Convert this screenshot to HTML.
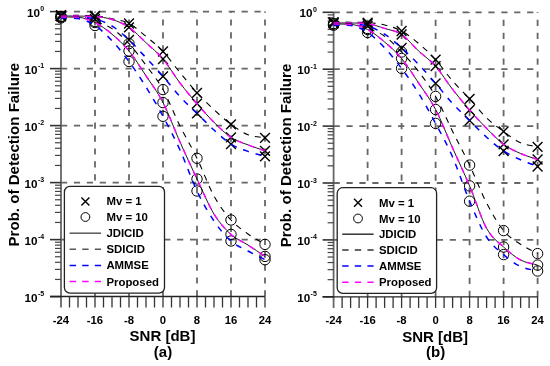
<!DOCTYPE html>
<html><head><meta charset="utf-8"><title>Detection failure</title><style>
html,body{margin:0;padding:0;background:#fff;}
svg{display:block;filter:blur(0.3px);}
text{font-family:"Liberation Sans", sans-serif;font-weight:bold;fill:#000;}
.tl{font-size:11.3px;}
.sup{font-size:7px;}
.yl{font-size:11.7px;}
.lt{font-size:11.4px;}
.al{font-size:15px;}
.yal{font-size:15.1px;}
.grid{stroke:#666;stroke-width:1.8;stroke-dasharray:6.2 6.7;fill:none;}
.yax{stroke:#666;stroke-width:1.8;}
.ytk{stroke:#333;stroke-width:1.6;}
.ytm{stroke:#444;stroke-width:1.2;}
.xax{stroke:#222;stroke-width:1.3;}
.xtk{stroke:#333;stroke-width:1.3;}
.cJ{stroke:#000;stroke-width:0.9;fill:none;}
.cS{stroke:#000;stroke-width:1.1;fill:none;stroke-dasharray:6 6;}
.cA{stroke:#0000ff;stroke-width:1.5;fill:none;stroke-dasharray:6 7;}
.cP{stroke:#ff00ff;stroke-width:1.5;fill:none;stroke-dasharray:6 6;}
.xm{stroke:#000;stroke-width:1.4;fill:none;}
.om{stroke:#000;stroke-width:1;fill:none;}
.leg{fill:#fff;stroke:#222;stroke-width:1.3;}
.lJ{stroke:#555;stroke-width:1.5;}
.lS{stroke:#555;stroke-width:1.5;stroke-dasharray:6.4 6.2;}
.lA{stroke:#0000ff;stroke-width:1.5;stroke-dasharray:6.4 6.2;}
.lP{stroke:#ff00ff;stroke-width:1.5;stroke-dasharray:6.4 6.2;}
</style></head>
<body><svg width="550" height="366" viewBox="0 0 550 366">
<line x1="95.00" y1="296.50" x2="95.00" y2="11.60" class="grid"/>
<line x1="129.00" y1="296.50" x2="129.00" y2="11.60" class="grid"/>
<line x1="163.00" y1="296.50" x2="163.00" y2="11.60" class="grid"/>
<line x1="197.00" y1="296.50" x2="197.00" y2="11.60" class="grid"/>
<line x1="231.00" y1="296.50" x2="231.00" y2="11.60" class="grid"/>
<line x1="265.00" y1="296.50" x2="265.00" y2="11.60" class="grid"/>
<line x1="61.00" y1="11.60" x2="265.00" y2="11.60" class="grid"/>
<line x1="61.00" y1="68.60" x2="265.00" y2="68.60" class="grid"/>
<line x1="61.00" y1="125.60" x2="265.00" y2="125.60" class="grid"/>
<line x1="61.00" y1="182.60" x2="265.00" y2="182.60" class="grid"/>
<line x1="61.00" y1="239.60" x2="265.00" y2="239.60" class="grid"/>
<line x1="61.00" y1="11.60" x2="61.00" y2="307.50" class="yax"/>
<line x1="50.00" y1="11.60" x2="61.00" y2="11.60" class="ytk"/>
<line x1="55.00" y1="51.44" x2="61.00" y2="51.44" class="ytm"/>
<line x1="55.00" y1="41.40" x2="61.00" y2="41.40" class="ytm"/>
<line x1="55.00" y1="34.28" x2="61.00" y2="34.28" class="ytm"/>
<line x1="55.00" y1="28.76" x2="61.00" y2="28.76" class="ytm"/>
<line x1="55.00" y1="24.25" x2="61.00" y2="24.25" class="ytm"/>
<line x1="55.00" y1="20.43" x2="61.00" y2="20.43" class="ytm"/>
<line x1="55.00" y1="17.12" x2="61.00" y2="17.12" class="ytm"/>
<line x1="55.00" y1="14.21" x2="61.00" y2="14.21" class="ytm"/>
<line x1="50.00" y1="68.60" x2="61.00" y2="68.60" class="ytk"/>
<line x1="55.00" y1="108.44" x2="61.00" y2="108.44" class="ytm"/>
<line x1="55.00" y1="98.40" x2="61.00" y2="98.40" class="ytm"/>
<line x1="55.00" y1="91.28" x2="61.00" y2="91.28" class="ytm"/>
<line x1="55.00" y1="85.76" x2="61.00" y2="85.76" class="ytm"/>
<line x1="55.00" y1="81.25" x2="61.00" y2="81.25" class="ytm"/>
<line x1="55.00" y1="77.43" x2="61.00" y2="77.43" class="ytm"/>
<line x1="55.00" y1="74.12" x2="61.00" y2="74.12" class="ytm"/>
<line x1="55.00" y1="71.21" x2="61.00" y2="71.21" class="ytm"/>
<line x1="50.00" y1="125.60" x2="61.00" y2="125.60" class="ytk"/>
<line x1="55.00" y1="165.44" x2="61.00" y2="165.44" class="ytm"/>
<line x1="55.00" y1="155.40" x2="61.00" y2="155.40" class="ytm"/>
<line x1="55.00" y1="148.28" x2="61.00" y2="148.28" class="ytm"/>
<line x1="55.00" y1="142.76" x2="61.00" y2="142.76" class="ytm"/>
<line x1="55.00" y1="138.25" x2="61.00" y2="138.25" class="ytm"/>
<line x1="55.00" y1="134.43" x2="61.00" y2="134.43" class="ytm"/>
<line x1="55.00" y1="131.12" x2="61.00" y2="131.12" class="ytm"/>
<line x1="55.00" y1="128.21" x2="61.00" y2="128.21" class="ytm"/>
<line x1="50.00" y1="182.60" x2="61.00" y2="182.60" class="ytk"/>
<line x1="55.00" y1="222.44" x2="61.00" y2="222.44" class="ytm"/>
<line x1="55.00" y1="212.40" x2="61.00" y2="212.40" class="ytm"/>
<line x1="55.00" y1="205.28" x2="61.00" y2="205.28" class="ytm"/>
<line x1="55.00" y1="199.76" x2="61.00" y2="199.76" class="ytm"/>
<line x1="55.00" y1="195.25" x2="61.00" y2="195.25" class="ytm"/>
<line x1="55.00" y1="191.43" x2="61.00" y2="191.43" class="ytm"/>
<line x1="55.00" y1="188.12" x2="61.00" y2="188.12" class="ytm"/>
<line x1="55.00" y1="185.21" x2="61.00" y2="185.21" class="ytm"/>
<line x1="50.00" y1="239.60" x2="61.00" y2="239.60" class="ytk"/>
<line x1="55.00" y1="279.44" x2="61.00" y2="279.44" class="ytm"/>
<line x1="55.00" y1="269.40" x2="61.00" y2="269.40" class="ytm"/>
<line x1="55.00" y1="262.28" x2="61.00" y2="262.28" class="ytm"/>
<line x1="55.00" y1="256.76" x2="61.00" y2="256.76" class="ytm"/>
<line x1="55.00" y1="252.25" x2="61.00" y2="252.25" class="ytm"/>
<line x1="55.00" y1="248.43" x2="61.00" y2="248.43" class="ytm"/>
<line x1="55.00" y1="245.12" x2="61.00" y2="245.12" class="ytm"/>
<line x1="55.00" y1="242.21" x2="61.00" y2="242.21" class="ytm"/>
<line x1="50.00" y1="296.60" x2="61.00" y2="296.60" class="ytk"/>
<line x1="50.00" y1="296.50" x2="265.00" y2="296.50" class="xax"/>
<line x1="69.50" y1="296.50" x2="69.50" y2="307.50" class="xtk"/>
<line x1="78.00" y1="296.50" x2="78.00" y2="307.50" class="xtk"/>
<line x1="86.50" y1="296.50" x2="86.50" y2="307.50" class="xtk"/>
<line x1="95.00" y1="296.50" x2="95.00" y2="307.50" class="xtk"/>
<line x1="103.50" y1="296.50" x2="103.50" y2="307.50" class="xtk"/>
<line x1="112.00" y1="296.50" x2="112.00" y2="307.50" class="xtk"/>
<line x1="120.50" y1="296.50" x2="120.50" y2="307.50" class="xtk"/>
<line x1="129.00" y1="296.50" x2="129.00" y2="307.50" class="xtk"/>
<line x1="137.50" y1="296.50" x2="137.50" y2="307.50" class="xtk"/>
<line x1="146.00" y1="296.50" x2="146.00" y2="307.50" class="xtk"/>
<line x1="154.50" y1="296.50" x2="154.50" y2="307.50" class="xtk"/>
<line x1="163.00" y1="296.50" x2="163.00" y2="307.50" class="xtk"/>
<line x1="171.50" y1="296.50" x2="171.50" y2="307.50" class="xtk"/>
<line x1="180.00" y1="296.50" x2="180.00" y2="307.50" class="xtk"/>
<line x1="188.50" y1="296.50" x2="188.50" y2="307.50" class="xtk"/>
<line x1="197.00" y1="296.50" x2="197.00" y2="307.50" class="xtk"/>
<line x1="205.50" y1="296.50" x2="205.50" y2="307.50" class="xtk"/>
<line x1="214.00" y1="296.50" x2="214.00" y2="307.50" class="xtk"/>
<line x1="222.50" y1="296.50" x2="222.50" y2="307.50" class="xtk"/>
<line x1="231.00" y1="296.50" x2="231.00" y2="307.50" class="xtk"/>
<line x1="239.50" y1="296.50" x2="239.50" y2="307.50" class="xtk"/>
<line x1="248.00" y1="296.50" x2="248.00" y2="307.50" class="xtk"/>
<line x1="256.50" y1="296.50" x2="256.50" y2="307.50" class="xtk"/>
<line x1="265.00" y1="296.50" x2="265.00" y2="307.50" class="xtk"/>
<text x="61.00" y="323.70" class="tl" text-anchor="middle">-24</text>
<text x="95.00" y="323.70" class="tl" text-anchor="middle">-16</text>
<text x="129.00" y="323.70" class="tl" text-anchor="middle">-8</text>
<text x="163.00" y="323.70" class="tl" text-anchor="middle">0</text>
<text x="197.00" y="323.70" class="tl" text-anchor="middle">8</text>
<text x="231.00" y="323.70" class="tl" text-anchor="middle">16</text>
<text x="265.00" y="323.70" class="tl" text-anchor="middle">24</text>
<text x="44.20" y="16.70" class="yl" text-anchor="end">10<tspan class="sup" dx="0.4" dy="-5.6">0</tspan></text>
<text x="44.20" y="73.70" class="yl" text-anchor="end">10<tspan class="sup" dx="0.4" dy="-5.6">-1</tspan></text>
<text x="44.20" y="130.70" class="yl" text-anchor="end">10<tspan class="sup" dx="0.4" dy="-5.6">-2</tspan></text>
<text x="44.20" y="187.70" class="yl" text-anchor="end">10<tspan class="sup" dx="0.4" dy="-5.6">-3</tspan></text>
<text x="44.20" y="244.70" class="yl" text-anchor="end">10<tspan class="sup" dx="0.4" dy="-5.6">-4</tspan></text>
<text x="44.20" y="301.70" class="yl" text-anchor="end">10<tspan class="sup" dx="0.4" dy="-5.6">-5</tspan></text>
<path d="M56.10,10.30L65.90,20.10M56.10,20.10L65.90,10.30" class="xm"/>
<path d="M90.10,10.90L99.90,20.70M90.10,20.70L99.90,10.90" class="xm"/>
<path d="M124.10,18.60L133.90,28.40M124.10,28.40L133.90,18.60" class="xm"/>
<path d="M158.10,46.60L167.90,56.40M158.10,56.40L167.90,46.60" class="xm"/>
<path d="M192.10,87.90L201.90,97.70M192.10,97.70L201.90,87.90" class="xm"/>
<path d="M226.10,119.50L235.90,129.30M226.10,129.30L235.90,119.50" class="xm"/>
<path d="M260.10,132.90L269.90,142.70M260.10,142.70L269.90,132.90" class="xm"/>
<path d="M56.10,11.00L65.90,20.80M56.10,20.80L65.90,11.00" class="xm"/>
<path d="M90.10,11.60L99.90,21.40M90.10,21.40L99.90,11.60" class="xm"/>
<path d="M124.10,22.40L133.90,32.20M124.10,32.20L133.90,22.40" class="xm"/>
<path d="M158.10,54.10L167.90,63.90M158.10,63.90L167.90,54.10" class="xm"/>
<path d="M192.10,98.80L201.90,108.60M192.10,108.60L201.90,98.80" class="xm"/>
<path d="M226.10,132.50L235.90,142.30M226.10,142.30L235.90,132.50" class="xm"/>
<path d="M260.10,145.90L269.90,155.70M260.10,155.70L269.90,145.90" class="xm"/>
<path d="M56.10,11.50L65.90,21.30M56.10,21.30L65.90,11.50" class="xm"/>
<path d="M90.10,14.10L99.90,23.90M90.10,23.90L99.90,14.10" class="xm"/>
<path d="M124.10,35.10L133.90,44.90M124.10,44.90L133.90,35.10" class="xm"/>
<path d="M158.10,71.40L167.90,81.20M158.10,81.20L167.90,71.40" class="xm"/>
<path d="M192.10,108.40L201.90,118.20M192.10,118.20L201.90,108.40" class="xm"/>
<path d="M226.10,139.30L235.90,149.10M226.10,149.10L235.90,139.30" class="xm"/>
<path d="M260.10,151.40L269.90,161.20M260.10,161.20L269.90,151.40" class="xm"/>
<circle cx="61.00" cy="16.40" r="5.2" class="om"/>
<circle cx="95.00" cy="21.50" r="5.2" class="om"/>
<circle cx="129.00" cy="43.60" r="5.2" class="om"/>
<circle cx="163.00" cy="89.60" r="5.2" class="om"/>
<circle cx="197.00" cy="158.30" r="5.2" class="om"/>
<circle cx="231.00" cy="220.00" r="5.2" class="om"/>
<circle cx="265.00" cy="244.40" r="5.2" class="om"/>
<circle cx="61.00" cy="17.00" r="5.2" class="om"/>
<circle cx="95.00" cy="22.50" r="5.2" class="om"/>
<circle cx="129.00" cy="51.00" r="5.2" class="om"/>
<circle cx="163.00" cy="102.60" r="5.2" class="om"/>
<circle cx="197.00" cy="179.00" r="5.2" class="om"/>
<circle cx="231.00" cy="234.40" r="5.2" class="om"/>
<circle cx="265.00" cy="256.40" r="5.2" class="om"/>
<circle cx="61.00" cy="17.90" r="5.2" class="om"/>
<circle cx="95.00" cy="25.50" r="5.2" class="om"/>
<circle cx="129.00" cy="61.50" r="5.2" class="om"/>
<circle cx="163.00" cy="116.30" r="5.2" class="om"/>
<circle cx="197.00" cy="191.00" r="5.2" class="om"/>
<circle cx="231.00" cy="241.00" r="5.2" class="om"/>
<circle cx="265.00" cy="259.70" r="5.2" class="om"/>
<path d="M61.00,15.90 C66.67,15.97 72.33,16.03 78.00,16.10 C83.67,16.17 89.33,16.11 95.00,16.50 C100.67,16.89 106.33,17.70 112.00,19.50 C117.67,21.30 123.33,23.43 129.00,27.30 C134.67,31.17 140.33,37.42 146.00,42.70 C151.67,47.98 157.33,52.28 163.00,59.00 C168.67,65.72 174.33,75.55 180.00,83.00 C185.67,90.45 191.33,97.15 197.00,103.70 C202.67,110.25 208.33,116.68 214.00,122.30 C219.67,127.92 225.33,133.63 231.00,137.40 C236.67,141.17 242.33,142.67 248.00,144.90 C253.67,147.13 259.33,148.83 265.00,150.80" class="cJ"/>
<path d="M61.00,15.20 C66.67,15.27 72.33,15.33 78.00,15.40 C83.67,15.47 89.33,15.41 95.00,15.80 C100.67,16.19 106.33,17.52 112.00,18.80 C117.67,20.08 123.33,20.57 129.00,23.50 C134.67,26.43 140.33,31.73 146.00,36.40 C151.67,41.07 157.33,45.47 163.00,51.50 C168.67,57.53 174.33,65.72 180.00,72.60 C185.67,79.48 191.33,86.62 197.00,92.80 C202.67,98.98 208.33,104.43 214.00,109.70 C219.67,114.97 225.33,120.23 231.00,124.40 C236.67,128.57 242.33,132.47 248.00,134.70 C253.67,136.93 259.33,136.77 265.00,137.80" class="cS"/>
<path d="M61.00,16.40 C66.67,16.70 72.33,16.87 78.00,17.30 C83.67,17.73 89.33,17.55 95.00,19.00 C100.67,20.45 106.33,22.50 112.00,26.00 C117.67,29.50 123.33,34.72 129.00,40.00 C134.67,45.28 140.33,51.65 146.00,57.70 C151.67,63.75 157.33,69.80 163.00,76.30 C168.67,82.80 174.33,90.53 180.00,96.70 C185.67,102.87 191.33,107.75 197.00,113.30 C202.67,118.85 208.33,124.85 214.00,130.00 C219.67,135.15 225.33,140.63 231.00,144.20 C236.67,147.77 242.33,149.38 248.00,151.40 C253.67,153.42 259.33,154.67 265.00,156.30" class="cA"/>
<path d="M61.00,15.90 C66.67,15.97 72.33,16.03 78.00,16.10 C83.67,16.17 89.33,16.11 95.00,16.50 C100.67,16.89 106.33,17.70 112.00,19.50 C117.67,21.30 123.33,23.43 129.00,27.30 C134.67,31.17 140.33,37.42 146.00,42.70 C151.67,47.98 157.33,52.28 163.00,59.00 C168.67,65.72 174.33,75.55 180.00,83.00 C185.67,90.45 191.33,97.15 197.00,103.70 C202.67,110.25 208.33,116.68 214.00,122.30 C219.67,127.92 225.33,133.63 231.00,137.40 C236.67,141.17 242.33,142.67 248.00,144.90 C253.67,147.13 259.33,148.83 265.00,150.80" class="cP"/>
<path d="M61.00,17.00 C66.67,17.03 72.33,17.00 78.00,17.30 C83.67,17.60 89.33,19.68 95.00,22.50 C100.67,25.32 106.33,29.45 112.00,34.20 C117.67,38.95 123.33,44.07 129.00,51.00 C134.67,57.93 140.33,67.20 146.00,75.80 C151.67,84.40 157.33,91.57 163.00,102.60 C168.67,113.63 174.33,129.27 180.00,142.00 C185.67,154.73 191.33,167.00 197.00,179.00 C202.67,191.00 208.33,204.77 214.00,214.00 C219.67,223.23 225.33,229.23 231.00,234.40 C236.67,239.57 242.33,241.33 248.00,245.00 C253.67,248.67 259.33,252.60 265.00,256.40" class="cJ"/>
<path d="M61.00,16.40 C66.67,16.42 72.33,16.40 78.00,16.60 C83.67,16.80 89.33,19.50 95.00,21.50 C100.67,23.50 106.33,24.92 112.00,28.60 C117.67,32.28 123.33,37.48 129.00,43.60 C134.67,49.72 140.33,57.63 146.00,65.30 C151.67,72.97 157.33,79.48 163.00,89.60 C168.67,99.72 174.33,114.55 180.00,126.00 C185.67,137.45 191.33,146.63 197.00,158.30 C202.67,169.97 208.33,185.72 214.00,196.00 C219.67,206.28 225.33,213.67 231.00,220.00 C236.67,226.33 242.33,229.93 248.00,234.00 C253.67,238.07 259.33,240.93 265.00,244.40" class="cS"/>
<path d="M61.00,17.90 C66.67,18.03 72.33,17.91 78.00,18.60 C83.67,19.29 89.33,21.80 95.00,25.50 C100.67,29.20 106.33,34.80 112.00,40.80 C117.67,46.80 123.33,53.80 129.00,61.50 C134.67,69.20 140.33,77.87 146.00,87.00 C151.67,96.13 157.33,105.80 163.00,116.30 C168.67,126.80 174.33,137.55 180.00,150.00 C185.67,162.45 191.33,179.17 197.00,191.00 C202.67,202.83 208.33,212.67 214.00,221.00 C219.67,229.33 225.33,236.00 231.00,241.00 C236.67,246.00 242.33,247.88 248.00,251.00 C253.67,254.12 259.33,256.80 265.00,259.70" class="cA"/>
<path d="M61.00,17.00 C66.67,17.03 72.33,17.00 78.00,17.30 C83.67,17.60 89.33,19.68 95.00,22.50 C100.67,25.32 106.33,29.45 112.00,34.20 C117.67,38.95 123.33,44.07 129.00,51.00 C134.67,57.93 140.33,67.20 146.00,75.80 C151.67,84.40 157.33,91.57 163.00,102.60 C168.67,113.63 174.33,129.27 180.00,142.00 C185.67,154.73 191.33,167.00 197.00,179.00 C202.67,191.00 208.33,204.77 214.00,214.00 C219.67,223.23 225.33,229.23 231.00,234.40 C236.67,239.57 242.33,241.33 248.00,245.00 C253.67,248.67 259.33,252.60 265.00,256.40" class="cP"/>
<rect x="64.40" y="186.30" width="100.1" height="106.9" rx="5.6" ry="5.6" class="leg"/>
<path d="M81.40,197.40L89.40,205.40M81.40,205.40L89.40,197.40" class="xm"/>
<circle cx="85.40" cy="217.00" r="4.4" class="om"/>
<line x1="69.60" y1="233.20" x2="101.00" y2="233.20" class="lJ" style="stroke:#585858"/>
<line x1="69.60" y1="249.30" x2="101.00" y2="249.30" class="lS" style="stroke:#585858"/>
<line x1="69.60" y1="265.40" x2="101.00" y2="265.40" class="lA"/>
<line x1="69.60" y1="281.60" x2="101.00" y2="281.60" class="lP"/>
<text x="106.40" y="205.40" class="lt">Mv = 1</text>
<text x="106.40" y="221.00" class="lt">Mv = 10</text>
<text x="106.40" y="237.20" class="lt">JDICID</text>
<text x="106.40" y="253.30" class="lt">SDICID</text>
<text x="106.40" y="269.40" class="lt">AMMSE</text>
<text x="106.40" y="285.60" class="lt">Proposed</text>
<text x="162.50" y="340.70" class="al" text-anchor="middle">SNR [dB]</text>
<text x="163.00" y="356.60" class="al" text-anchor="middle">(a)</text>
<text transform="translate(18.70,154.70) rotate(-90)" x="0" y="0" class="yal" text-anchor="middle">Prob. of Detection Failure</text>
<line x1="367.60" y1="296.90" x2="367.60" y2="12.30" class="grid"/>
<line x1="401.60" y1="296.90" x2="401.60" y2="12.30" class="grid"/>
<line x1="435.60" y1="296.90" x2="435.60" y2="12.30" class="grid"/>
<line x1="469.60" y1="296.90" x2="469.60" y2="12.30" class="grid"/>
<line x1="503.60" y1="296.90" x2="503.60" y2="12.30" class="grid"/>
<line x1="537.60" y1="296.90" x2="537.60" y2="12.30" class="grid"/>
<line x1="333.60" y1="12.30" x2="537.60" y2="12.30" class="grid"/>
<line x1="333.60" y1="69.20" x2="537.60" y2="69.20" class="grid"/>
<line x1="333.60" y1="126.10" x2="537.60" y2="126.10" class="grid"/>
<line x1="333.60" y1="183.00" x2="537.60" y2="183.00" class="grid"/>
<line x1="333.60" y1="239.90" x2="537.60" y2="239.90" class="grid"/>
<line x1="333.60" y1="12.30" x2="333.60" y2="307.90" class="yax"/>
<line x1="322.60" y1="12.30" x2="333.60" y2="12.30" class="ytk"/>
<line x1="327.60" y1="52.07" x2="333.60" y2="52.07" class="ytm"/>
<line x1="327.60" y1="42.05" x2="333.60" y2="42.05" class="ytm"/>
<line x1="327.60" y1="34.94" x2="333.60" y2="34.94" class="ytm"/>
<line x1="327.60" y1="29.43" x2="333.60" y2="29.43" class="ytm"/>
<line x1="327.60" y1="24.92" x2="333.60" y2="24.92" class="ytm"/>
<line x1="327.60" y1="21.11" x2="333.60" y2="21.11" class="ytm"/>
<line x1="327.60" y1="17.81" x2="333.60" y2="17.81" class="ytm"/>
<line x1="327.60" y1="14.90" x2="333.60" y2="14.90" class="ytm"/>
<line x1="322.60" y1="69.20" x2="333.60" y2="69.20" class="ytk"/>
<line x1="327.60" y1="108.97" x2="333.60" y2="108.97" class="ytm"/>
<line x1="327.60" y1="98.95" x2="333.60" y2="98.95" class="ytm"/>
<line x1="327.60" y1="91.84" x2="333.60" y2="91.84" class="ytm"/>
<line x1="327.60" y1="86.33" x2="333.60" y2="86.33" class="ytm"/>
<line x1="327.60" y1="81.82" x2="333.60" y2="81.82" class="ytm"/>
<line x1="327.60" y1="78.01" x2="333.60" y2="78.01" class="ytm"/>
<line x1="327.60" y1="74.71" x2="333.60" y2="74.71" class="ytm"/>
<line x1="327.60" y1="71.80" x2="333.60" y2="71.80" class="ytm"/>
<line x1="322.60" y1="126.10" x2="333.60" y2="126.10" class="ytk"/>
<line x1="327.60" y1="165.87" x2="333.60" y2="165.87" class="ytm"/>
<line x1="327.60" y1="155.85" x2="333.60" y2="155.85" class="ytm"/>
<line x1="327.60" y1="148.74" x2="333.60" y2="148.74" class="ytm"/>
<line x1="327.60" y1="143.23" x2="333.60" y2="143.23" class="ytm"/>
<line x1="327.60" y1="138.72" x2="333.60" y2="138.72" class="ytm"/>
<line x1="327.60" y1="134.91" x2="333.60" y2="134.91" class="ytm"/>
<line x1="327.60" y1="131.61" x2="333.60" y2="131.61" class="ytm"/>
<line x1="327.60" y1="128.70" x2="333.60" y2="128.70" class="ytm"/>
<line x1="322.60" y1="183.00" x2="333.60" y2="183.00" class="ytk"/>
<line x1="327.60" y1="222.77" x2="333.60" y2="222.77" class="ytm"/>
<line x1="327.60" y1="212.75" x2="333.60" y2="212.75" class="ytm"/>
<line x1="327.60" y1="205.64" x2="333.60" y2="205.64" class="ytm"/>
<line x1="327.60" y1="200.13" x2="333.60" y2="200.13" class="ytm"/>
<line x1="327.60" y1="195.62" x2="333.60" y2="195.62" class="ytm"/>
<line x1="327.60" y1="191.81" x2="333.60" y2="191.81" class="ytm"/>
<line x1="327.60" y1="188.51" x2="333.60" y2="188.51" class="ytm"/>
<line x1="327.60" y1="185.60" x2="333.60" y2="185.60" class="ytm"/>
<line x1="322.60" y1="239.90" x2="333.60" y2="239.90" class="ytk"/>
<line x1="327.60" y1="279.67" x2="333.60" y2="279.67" class="ytm"/>
<line x1="327.60" y1="269.65" x2="333.60" y2="269.65" class="ytm"/>
<line x1="327.60" y1="262.54" x2="333.60" y2="262.54" class="ytm"/>
<line x1="327.60" y1="257.03" x2="333.60" y2="257.03" class="ytm"/>
<line x1="327.60" y1="252.52" x2="333.60" y2="252.52" class="ytm"/>
<line x1="327.60" y1="248.71" x2="333.60" y2="248.71" class="ytm"/>
<line x1="327.60" y1="245.41" x2="333.60" y2="245.41" class="ytm"/>
<line x1="327.60" y1="242.50" x2="333.60" y2="242.50" class="ytm"/>
<line x1="322.60" y1="296.80" x2="333.60" y2="296.80" class="ytk"/>
<line x1="322.60" y1="296.90" x2="537.60" y2="296.90" class="xax"/>
<line x1="342.10" y1="296.90" x2="342.10" y2="307.90" class="xtk"/>
<line x1="350.60" y1="296.90" x2="350.60" y2="307.90" class="xtk"/>
<line x1="359.10" y1="296.90" x2="359.10" y2="307.90" class="xtk"/>
<line x1="367.60" y1="296.90" x2="367.60" y2="307.90" class="xtk"/>
<line x1="376.10" y1="296.90" x2="376.10" y2="307.90" class="xtk"/>
<line x1="384.60" y1="296.90" x2="384.60" y2="307.90" class="xtk"/>
<line x1="393.10" y1="296.90" x2="393.10" y2="307.90" class="xtk"/>
<line x1="401.60" y1="296.90" x2="401.60" y2="307.90" class="xtk"/>
<line x1="410.10" y1="296.90" x2="410.10" y2="307.90" class="xtk"/>
<line x1="418.60" y1="296.90" x2="418.60" y2="307.90" class="xtk"/>
<line x1="427.10" y1="296.90" x2="427.10" y2="307.90" class="xtk"/>
<line x1="435.60" y1="296.90" x2="435.60" y2="307.90" class="xtk"/>
<line x1="444.10" y1="296.90" x2="444.10" y2="307.90" class="xtk"/>
<line x1="452.60" y1="296.90" x2="452.60" y2="307.90" class="xtk"/>
<line x1="461.10" y1="296.90" x2="461.10" y2="307.90" class="xtk"/>
<line x1="469.60" y1="296.90" x2="469.60" y2="307.90" class="xtk"/>
<line x1="478.10" y1="296.90" x2="478.10" y2="307.90" class="xtk"/>
<line x1="486.60" y1="296.90" x2="486.60" y2="307.90" class="xtk"/>
<line x1="495.10" y1="296.90" x2="495.10" y2="307.90" class="xtk"/>
<line x1="503.60" y1="296.90" x2="503.60" y2="307.90" class="xtk"/>
<line x1="512.10" y1="296.90" x2="512.10" y2="307.90" class="xtk"/>
<line x1="520.60" y1="296.90" x2="520.60" y2="307.90" class="xtk"/>
<line x1="529.10" y1="296.90" x2="529.10" y2="307.90" class="xtk"/>
<line x1="537.60" y1="296.90" x2="537.60" y2="307.90" class="xtk"/>
<text x="333.60" y="324.10" class="tl" text-anchor="middle">-24</text>
<text x="367.60" y="324.10" class="tl" text-anchor="middle">-16</text>
<text x="401.60" y="324.10" class="tl" text-anchor="middle">-8</text>
<text x="435.60" y="324.10" class="tl" text-anchor="middle">0</text>
<text x="469.60" y="324.10" class="tl" text-anchor="middle">8</text>
<text x="503.60" y="324.10" class="tl" text-anchor="middle">16</text>
<text x="537.60" y="324.10" class="tl" text-anchor="middle">24</text>
<text x="316.80" y="17.40" class="yl" text-anchor="end">10<tspan class="sup" dx="0.4" dy="-5.6">0</tspan></text>
<text x="316.80" y="74.30" class="yl" text-anchor="end">10<tspan class="sup" dx="0.4" dy="-5.6">-1</tspan></text>
<text x="316.80" y="131.20" class="yl" text-anchor="end">10<tspan class="sup" dx="0.4" dy="-5.6">-2</tspan></text>
<text x="316.80" y="188.10" class="yl" text-anchor="end">10<tspan class="sup" dx="0.4" dy="-5.6">-3</tspan></text>
<text x="316.80" y="245.00" class="yl" text-anchor="end">10<tspan class="sup" dx="0.4" dy="-5.6">-4</tspan></text>
<text x="316.80" y="301.90" class="yl" text-anchor="end">10<tspan class="sup" dx="0.4" dy="-5.6">-5</tspan></text>
<path d="M328.70,17.20L338.50,27.00M328.70,27.00L338.50,17.20" class="xm"/>
<path d="M362.70,17.70L372.50,27.50M362.70,27.50L372.50,17.70" class="xm"/>
<path d="M396.70,26.10L406.50,35.90M396.70,35.90L406.50,26.10" class="xm"/>
<path d="M430.70,54.80L440.50,64.60M430.70,64.60L440.50,54.80" class="xm"/>
<path d="M464.70,93.90L474.50,103.70M464.70,103.70L474.50,93.90" class="xm"/>
<path d="M498.70,126.60L508.50,136.40M498.70,136.40L508.50,126.60" class="xm"/>
<path d="M532.70,141.90L542.50,151.70M532.70,151.70L542.50,141.90" class="xm"/>
<path d="M328.70,18.00L338.50,27.80M328.70,27.80L338.50,18.00" class="xm"/>
<path d="M362.70,18.90L372.50,28.70M362.70,28.70L372.50,18.90" class="xm"/>
<path d="M396.70,29.60L406.50,39.40M396.70,39.40L406.50,29.60" class="xm"/>
<path d="M430.70,61.30L440.50,71.10M430.70,71.10L440.50,61.30" class="xm"/>
<path d="M464.70,105.10L474.50,114.90M464.70,114.90L474.50,105.10" class="xm"/>
<path d="M498.70,139.40L508.50,149.20M498.70,149.20L508.50,139.40" class="xm"/>
<path d="M532.70,154.60L542.50,164.40M532.70,164.40L542.50,154.60" class="xm"/>
<path d="M328.70,18.50L338.50,28.30M328.70,28.30L338.50,18.50" class="xm"/>
<path d="M362.70,21.10L372.50,30.90M362.70,30.90L372.50,21.10" class="xm"/>
<path d="M396.70,43.10L406.50,52.90M396.70,52.90L406.50,43.10" class="xm"/>
<path d="M430.70,78.50L440.50,88.30M430.70,88.30L440.50,78.50" class="xm"/>
<path d="M464.70,115.60L474.50,125.40M464.70,125.40L474.50,115.60" class="xm"/>
<path d="M498.70,146.10L508.50,155.90M498.70,155.90L508.50,146.10" class="xm"/>
<path d="M532.70,161.60L542.50,171.40M532.70,171.40L542.50,161.60" class="xm"/>
<circle cx="333.60" cy="23.60" r="5.2" class="om"/>
<circle cx="367.60" cy="28.50" r="5.2" class="om"/>
<circle cx="401.60" cy="52.00" r="5.2" class="om"/>
<circle cx="435.60" cy="96.40" r="5.2" class="om"/>
<circle cx="469.60" cy="165.10" r="5.2" class="om"/>
<circle cx="503.60" cy="230.60" r="5.2" class="om"/>
<circle cx="537.60" cy="253.60" r="5.2" class="om"/>
<circle cx="333.60" cy="24.00" r="5.2" class="om"/>
<circle cx="367.60" cy="29.50" r="5.2" class="om"/>
<circle cx="401.60" cy="58.50" r="5.2" class="om"/>
<circle cx="435.60" cy="109.50" r="5.2" class="om"/>
<circle cx="469.60" cy="185.90" r="5.2" class="om"/>
<circle cx="503.60" cy="247.00" r="5.2" class="om"/>
<circle cx="537.60" cy="265.10" r="5.2" class="om"/>
<circle cx="333.60" cy="25.20" r="5.2" class="om"/>
<circle cx="367.60" cy="32.50" r="5.2" class="om"/>
<circle cx="401.60" cy="68.40" r="5.2" class="om"/>
<circle cx="435.60" cy="123.40" r="5.2" class="om"/>
<circle cx="469.60" cy="201.20" r="5.2" class="om"/>
<circle cx="503.60" cy="254.60" r="5.2" class="om"/>
<circle cx="537.60" cy="271.00" r="5.2" class="om"/>
<path d="M333.60,22.90 C339.27,22.92 344.93,22.91 350.60,23.00 C356.27,23.09 361.93,23.00 367.60,23.80 C373.27,24.60 378.93,26.62 384.60,28.40 C390.27,30.18 395.93,30.73 401.60,34.50 C407.27,38.27 412.93,45.72 418.60,51.00 C424.27,56.28 429.93,59.80 435.60,66.20 C441.27,72.60 446.93,82.10 452.60,89.40 C458.27,96.70 463.93,103.50 469.60,110.00 C475.27,116.50 480.93,122.68 486.60,128.40 C492.27,134.12 497.93,140.12 503.60,144.30 C509.27,148.48 514.93,150.97 520.60,153.50 C526.27,156.03 531.93,157.50 537.60,159.50" class="cJ"/>
<path d="M333.60,22.10 C339.27,22.13 344.93,22.13 350.60,22.20 C356.27,22.27 361.93,22.21 367.60,22.60 C373.27,22.99 378.93,23.60 384.60,25.00 C390.27,26.40 395.93,27.92 401.60,31.00 C407.27,34.08 412.93,38.72 418.60,43.50 C424.27,48.28 429.93,53.45 435.60,59.70 C441.27,65.95 446.93,74.48 452.60,81.00 C458.27,87.52 463.93,92.63 469.60,98.80 C475.27,104.97 480.93,112.55 486.60,118.00 C492.27,123.45 497.93,127.37 503.60,131.50 C509.27,135.63 514.93,140.25 520.60,142.80 C526.27,145.35 531.93,145.47 537.60,146.80" class="cS"/>
<path d="M333.60,23.40 C339.27,23.52 344.93,23.42 350.60,23.80 C356.27,24.18 361.93,24.28 367.60,26.00 C373.27,27.72 378.93,30.43 384.60,34.10 C390.27,37.77 395.93,42.95 401.60,48.00 C407.27,53.05 412.93,58.50 418.60,64.40 C424.27,70.30 429.93,76.88 435.60,83.40 C441.27,89.92 446.93,97.32 452.60,103.50 C458.27,109.68 463.93,114.88 469.60,120.50 C475.27,126.12 480.93,132.12 486.60,137.20 C492.27,142.28 497.93,147.23 503.60,151.00 C509.27,154.77 514.93,157.22 520.60,159.80 C526.27,162.38 531.93,164.27 537.60,166.50" class="cA"/>
<path d="M333.60,22.90 C339.27,22.92 344.93,22.91 350.60,23.00 C356.27,23.09 361.93,23.00 367.60,23.80 C373.27,24.60 378.93,26.62 384.60,28.40 C390.27,30.18 395.93,30.73 401.60,34.50 C407.27,38.27 412.93,45.72 418.60,51.00 C424.27,56.28 429.93,59.80 435.60,66.20 C441.27,72.60 446.93,82.10 452.60,89.40 C458.27,96.70 463.93,103.50 469.60,110.00 C475.27,116.50 480.93,122.68 486.60,128.40 C492.27,134.12 497.93,140.12 503.60,144.30 C509.27,148.48 514.93,150.97 520.60,153.50 C526.27,156.03 531.93,157.50 537.60,159.50" class="cP"/>
<path d="M333.60,24.00 C339.27,24.06 344.93,24.00 350.60,24.40 C356.27,24.80 361.93,26.57 367.60,29.50 C373.27,32.43 378.93,37.17 384.60,42.00 C390.27,46.83 395.93,51.67 401.60,58.50 C407.27,65.33 412.93,74.50 418.60,83.00 C424.27,91.50 429.93,98.67 435.60,109.50 C441.27,120.33 446.93,135.27 452.60,148.00 C458.27,160.73 463.93,172.52 469.60,185.90 C475.27,199.28 480.93,218.12 486.60,228.30 C492.27,238.48 497.93,241.72 503.60,247.00 C509.27,252.28 514.93,256.98 520.60,260.00 C526.27,263.02 531.93,263.40 537.60,265.10" class="cJ"/>
<path d="M333.60,23.60 C339.27,23.62 344.93,23.60 350.60,23.80 C356.27,24.00 361.93,26.43 367.60,28.50 C373.27,30.57 378.93,32.28 384.60,36.20 C390.27,40.12 395.93,46.12 401.60,52.00 C407.27,57.88 412.93,64.10 418.60,71.50 C424.27,78.90 429.93,86.42 435.60,96.40 C441.27,106.38 446.93,119.95 452.60,131.40 C458.27,142.85 463.93,153.17 469.60,165.10 C475.27,177.03 480.93,192.08 486.60,203.00 C492.27,213.92 497.93,223.72 503.60,230.60 C509.27,237.48 514.93,240.47 520.60,244.30 C526.27,248.13 531.93,250.50 537.60,253.60" class="cS"/>
<path d="M333.60,25.20 C339.27,25.22 344.93,25.20 350.60,25.50 C356.27,25.80 361.93,28.78 367.60,32.50 C373.27,36.22 378.93,41.82 384.60,47.80 C390.27,53.78 395.93,60.82 401.60,68.40 C407.27,75.98 412.93,84.13 418.60,93.30 C424.27,102.47 429.93,112.78 435.60,123.40 C441.27,134.02 446.93,144.03 452.60,157.00 C458.27,169.97 463.93,187.87 469.60,201.20 C475.27,214.53 480.93,228.10 486.60,237.00 C492.27,245.90 497.93,249.68 503.60,254.60 C509.27,259.52 514.93,263.77 520.60,266.50 C526.27,269.23 531.93,269.50 537.60,271.00" class="cA"/>
<path d="M333.60,24.00 C339.27,24.06 344.93,24.00 350.60,24.40 C356.27,24.80 361.93,26.57 367.60,29.50 C373.27,32.43 378.93,37.17 384.60,42.00 C390.27,46.83 395.93,51.67 401.60,58.50 C407.27,65.33 412.93,74.50 418.60,83.00 C424.27,91.50 429.93,98.67 435.60,109.50 C441.27,120.33 446.93,135.27 452.60,148.00 C458.27,160.73 463.93,172.52 469.60,185.90 C475.27,199.28 480.93,218.12 486.60,228.30 C492.27,238.48 497.93,241.72 503.60,247.00 C509.27,252.28 514.93,256.98 520.60,260.00 C526.27,263.02 531.93,263.40 537.60,265.10" class="cP"/>
<rect x="337.20" y="187.70" width="99.4" height="105.7" rx="5.6" ry="5.6" class="leg"/>
<path d="M354.00,198.80L362.00,206.80M354.00,206.80L362.00,198.80" class="xm"/>
<circle cx="358.00" cy="218.50" r="4.4" class="om"/>
<line x1="342.20" y1="234.20" x2="373.60" y2="234.20" class="lJ" style="stroke:#333"/>
<line x1="342.20" y1="250.10" x2="373.60" y2="250.10" class="lS" style="stroke:#333"/>
<line x1="342.20" y1="266.10" x2="373.60" y2="266.10" class="lA"/>
<line x1="342.20" y1="282.20" x2="373.60" y2="282.20" class="lP"/>
<text x="379.00" y="206.80" class="lt">Mv = 1</text>
<text x="379.00" y="222.50" class="lt">Mv = 10</text>
<text x="379.00" y="238.20" class="lt">JDICID</text>
<text x="379.00" y="254.10" class="lt">SDICID</text>
<text x="379.00" y="270.10" class="lt">AMMSE</text>
<text x="379.00" y="286.20" class="lt">Proposed</text>
<text x="435.10" y="341.50" class="al" text-anchor="middle">SNR [dB]</text>
<text x="435.60" y="357.40" class="al" text-anchor="middle">(b)</text>
<text transform="translate(290.90,155.50) rotate(-90)" x="0" y="0" class="yal" text-anchor="middle">Prob. of Detection Failure</text>
</svg></body></html>
